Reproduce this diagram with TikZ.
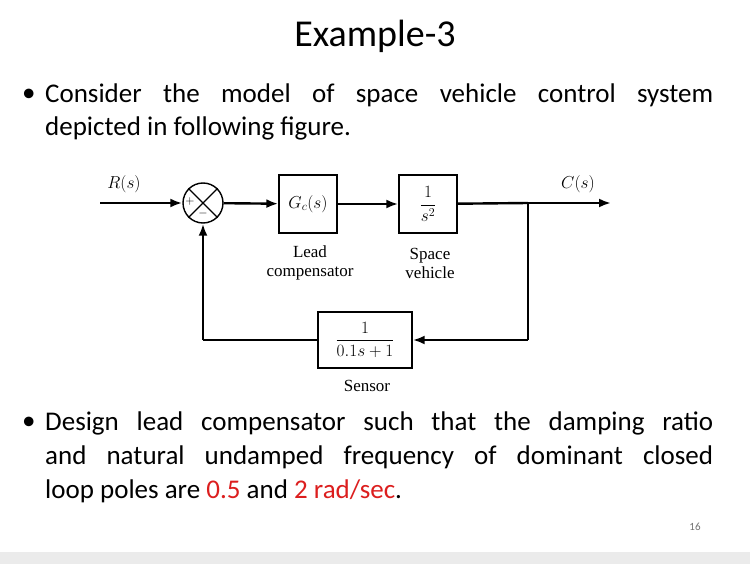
\documentclass[tikz,border=0pt]{standalone}
\usepackage{amsmath}
\usepackage{fontspec}
\setmainfont{Carlito}
\newfontfamily\tms{Liberation Serif}
\usetikzlibrary{arrows.meta}
\definecolor{hl}{RGB}{220,30,30}
\begin{document}
\begin{tikzpicture}[x=1pt,y=-1pt,
  blk/.style={draw,line width=1.4pt,minimum width=58pt,minimum height=58pt,inner sep=0pt,font=\fontsize{18}{20}\selectfont},
  sig/.style={line width=2.4pt,-{Latex[length=12pt,width=9pt]}},
  wire/.style={line width=2.4pt},
  lbl/.style={font=\tms\fontsize{17}{19}\selectfont,align=center},
  bl/.style={anchor=west,inner sep=0pt,font=\fontsize{27}{34}\selectfont}]
\useasboundingbox (0,0) rectangle (750,564);
\fill[white] (0,0) rectangle (750,564);
\fill[black!8] (0,552) rectangle (750,564);
\node (title) at (375,36) {\fontsize{38}{44}\selectfont Example-3};
\node[bl] (b1a) at (45,95) {\makebox[668pt][s]{Consider the model of space vehicle control system}};
\node[bl] (b1b) at (45,128) {depicted in following figure.};
\node[bl] (d1) at (22,95) {•};
\node[bl] (b2a) at (45,423) {\makebox[668pt][s]{Design lead compensator such that the damping ratio}};
\node[bl] (b2b) at (45,457) {\makebox[668pt][s]{and natural undamped frequency of dominant closed}};
\node[bl] (b2c) at (45,491) {loop poles are \textcolor{hl}{0.5} and \textcolor{hl}{2 rad/sec}.};
\node[bl] (d2) at (22,423) {•};
\node[text=black!55,font=\fontsize{11}{12}\selectfont] (pg) at (695,527) {16};
% diagram
\coordinate (in) at (100,203);
\node[draw,circle,line width=1.4pt,minimum size=40pt,inner sep=0pt] (sum) at (203,203) {};
\draw[line width=1.2pt] (sum.north west) -- (sum.south east) (sum.north east) -- (sum.south west);
\node[font=\fontsize{12}{12}\selectfont] (pl) at (190,202) {$+$};
\node[font=\fontsize{12}{12}\selectfont] (mi) at (203,214) {$-$};
\node[blk] (gc) at (308,204) {$G_c(s)$};
\node[blk] (pl2) at (428,204) {$\dfrac{1}{s^2}$};
\coordinate (br) at (528,203);
\coordinate (out) at (611,203);
\coordinate (fbr) at (528,340);
\coordinate (fbl) at (203,340);
\node[blk,minimum width=94pt,minimum height=56pt] (sen) at (365,340) {$\dfrac{1}{0.1s+1}$};
\draw[sig] (in) -- (sum);
\draw[sig] (sum) -- (gc);
\draw[sig] (gc) -- (pl2);
\draw[wire] (pl2) -- (br);
\draw[sig] (br) -- (out);
\draw[wire] (br) -- (fbr);
\draw[sig] (fbr) -- (sen);
\draw[wire] (sen) -- (fbl);
\draw[sig] (fbl) -- (sum);
\node[font=\fontsize{18}{19}\selectfont] (r) at (124,184) {$R(s)$};
\node[font=\fontsize{18}{19}\selectfont] (c) at (578,184) {$C(s)$};
\node[lbl] (lc) at (310,263) {Lead\\compensator};
\node[lbl] (sv) at (430,263) {Space\\vehicle};
\node[lbl] (sn) at (367,386) {Sensor};
\end{tikzpicture}
\end{document}
